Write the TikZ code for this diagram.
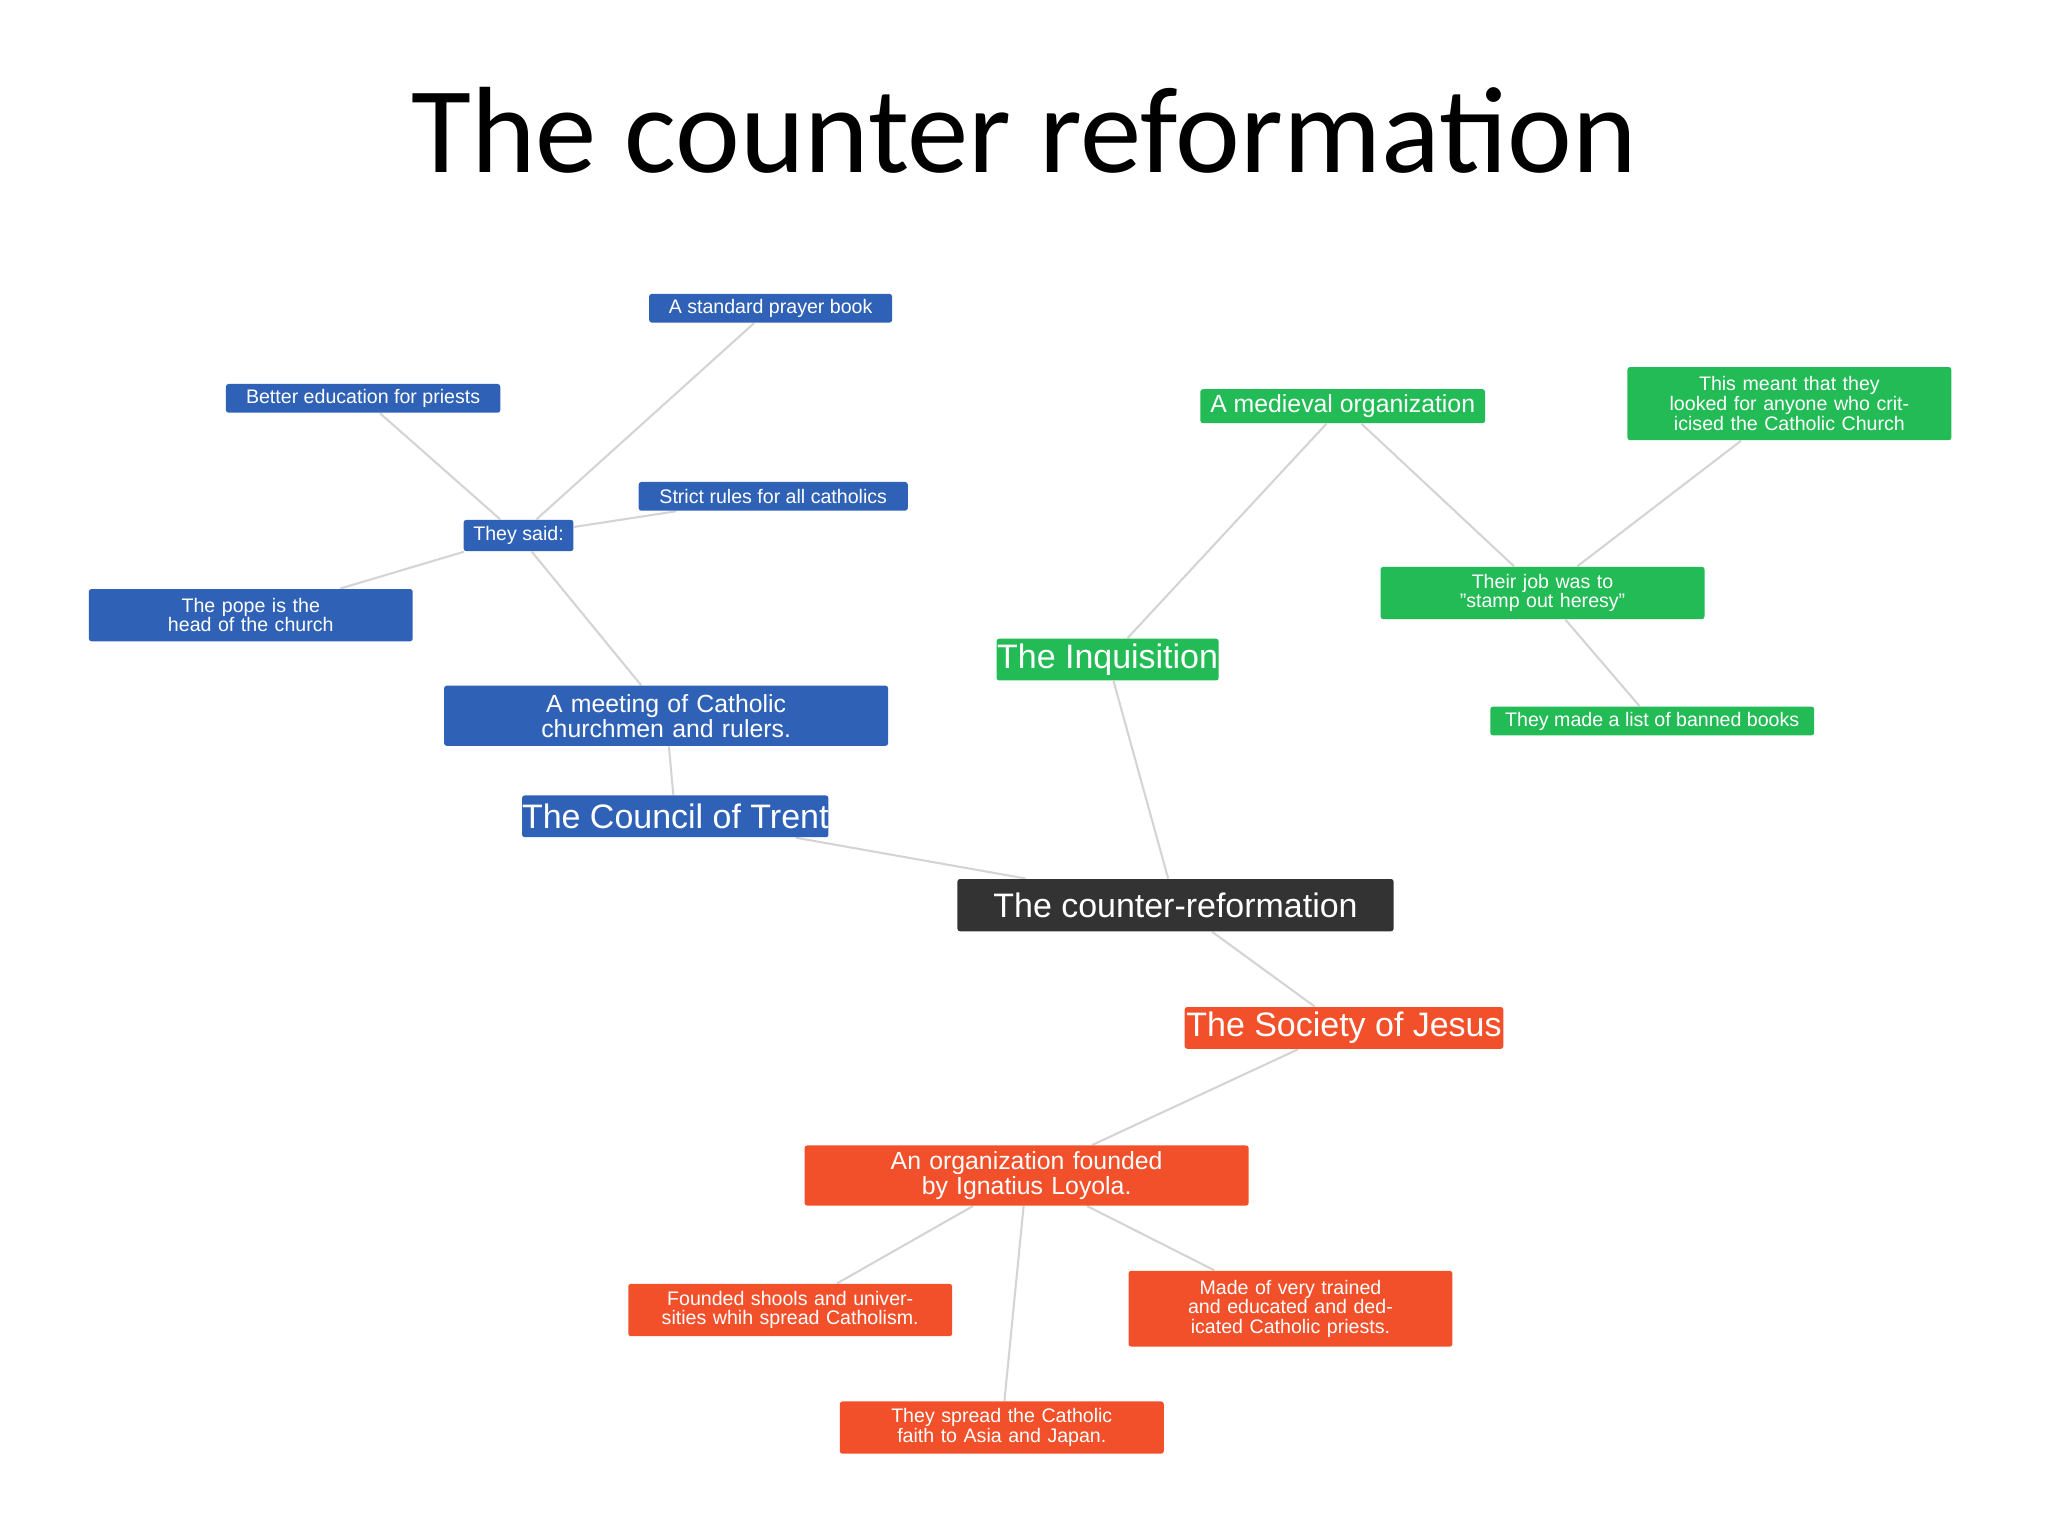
\documentclass[tikz,border=0pt]{standalone}
\usepackage{fontspec}
\setmainfont{Liberation Sans}
\newfontfamily\titlefont{Carlito}
\usetikzlibrary{backgrounds}
\definecolor{cblue}{HTML}{2F62B6}
\definecolor{cgreen}{HTML}{22BB55}
\definecolor{corange}{HTML}{F2502A}
\definecolor{cdark}{HTML}{333333}
\definecolor{cedge}{HTML}{D4D4D4}
\tikzset{
 box/.style={rectangle,rounded corners=1pt,text=white,inner sep=0pt,align=center,font=\fontsize{7.5}{7.5}\selectfont},
 bsmall/.style={box,fill=cblue},
 gsmall/.style={box,fill=cgreen},
 osmall/.style={box,fill=corange},
 big/.style={font=\fontsize{13}{13}\selectfont},
 mid/.style={font=\fontsize{9.5}{9.5}\selectfont},
 edge/.style={draw=cedge,line width=0.8pt}
}
\begin{document}
\begin{tikzpicture}[x=0.5pt,y=-0.5pt]
\useasboundingbox (0,0) rectangle (1568,1176);
\node[font=\titlefont\fontsize{47}{47}\selectfont] (title) at (784,100) {The counter reformation};
\node[box,fill=cdark,big,minimum width=167pt,minimum height=20pt] (root) at (900,693) {The counter-reformation};
\node[bsmall,big,minimum width=117pt,minimum height=16pt] (trent) at (517,625) {The Council of Trent};
\node[bsmall,mid,minimum width=170pt,minimum height=23pt,text width=160pt] (meet) at (510,548) {A meeting of Catholic churchmen and rulers.};
\node[bsmall,minimum width=42pt,minimum height=12pt] (said) at (397,410) {They said:};
\node[bsmall,minimum width=93pt,minimum height=11pt] (prayer) at (590,236) {A standard prayer book};
\node[bsmall,minimum width=105pt,minimum height=11pt] (edu) at (278,305) {Better education for priests};
\node[bsmall,minimum width=103pt,minimum height=11pt] (rules) at (592,380) {Strict rules for all catholics};
\node[bsmall,minimum width=124pt,minimum height=20pt,text width=110pt] (pope) at (192,471) {The pope is the head of the church};
\node[gsmall,big,minimum width=85pt,minimum height=16pt] (inq) at (848,505) {The Inquisition};
\node[gsmall,mid,minimum width=109pt,minimum height=13pt] (med) at (1028,311) {A medieval organization};
\node[gsmall,minimum width=124pt,minimum height=28pt,text width=120pt] (meant) at (1370,309) {This meant that they looked for anyone who criticised the Catholic Church};
\node[gsmall,minimum width=124pt,minimum height=20pt,text width=110pt] (job) at (1181,454) {Their job was to "stamp out heresy"};
\node[gsmall,minimum width=124pt,minimum height=11pt] (banned) at (1265,552) {They made a list of banned books};
\node[osmall,big,minimum width=122pt,minimum height=16pt] (soj) at (1029,787) {The Society of Jesus};
\node[osmall,mid,minimum width=170pt,minimum height=23pt,text width=160pt] (org) at (786,900) {An organization founded by Ignatius Loyola.};
\node[osmall,minimum width=124pt,minimum height=20pt,text width=122pt] (found) at (605,1003) {Founded shools and universities whih spread Catholism.};
\node[osmall,minimum width=124pt,minimum height=29pt,text width=100pt] (made) at (988,1002) {Made of very trained and educated and dedicated Catholic priests.};
\node[osmall,minimum width=124pt,minimum height=20pt,text width=122pt] (spread) at (767,1093) {They spread the Catholic faith to Asia and Japan.};
\begin{scope}[on background layer]
\draw[edge] (root) -- (trent);
\draw[edge] (trent) -- (meet);
\draw[edge] (meet) -- (said);
\draw[edge] (said) -- (prayer);
\draw[edge] (said) -- (edu);
\draw[edge] (said) -- (rules);
\draw[edge] (said) -- (pope);
\draw[edge] (root) -- (inq);
\draw[edge] (inq) -- (med);
\draw[edge] (med) -- (job);
\draw[edge] (job) -- (meant);
\draw[edge] (job) -- (banned);
\draw[edge] (root) -- (soj);
\draw[edge] (soj) -- (org);
\draw[edge] (org) -- (found);
\draw[edge] (org) -- (made);
\draw[edge] (org) -- (spread);
\end{scope}
\end{tikzpicture}
\end{document}
